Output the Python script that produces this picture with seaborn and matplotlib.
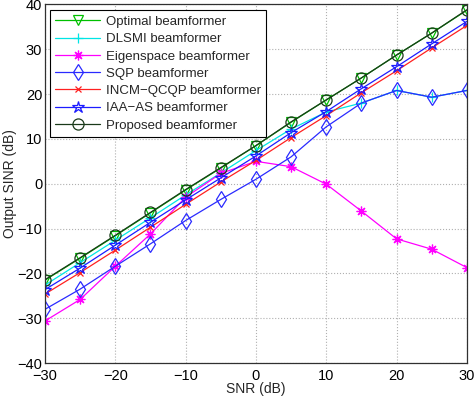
import numpy as np
import pandas as pd
import matplotlib
matplotlib.use('Agg')
import matplotlib.pyplot as plt
import seaborn as sns

# SNR axis (dB)
snr = [-30, -25, -20, -15, -10, -5, 0, 5, 10, 15, 20, 25, 30]

# output SINR curves
optimal   = [-21.5, -16.6, -11.6, -6.5, -1.4, 3.5, 8.5, 13.7, 18.7, 23.6, 28.7, 33.6, 38.7]
dlsmi     = [-22.6, -17.6, -12.6, -7.6, -2.5, 2.4, 7.4, 12.2, 16.0, 18.0, 20.8, 19.3, 20.8]
eigen     = [-30.6, -25.8, -18.4, -11.2, -3.0, 2.3, 5.0, 3.8, -0.1, -6.1, -12.3, -14.6, -18.7]
sqp       = [-28.0, -23.5, -18.4, -13.4, -8.2, -3.5, 1.0, 6.0, 12.7, 18.0, 20.8, 19.3, 20.8]
incm      = [-24.6, -19.8, -14.8, -9.7, -4.6, 0.4, 5.2, 10.3, 15.2, 20.3, 25.2, 30.3, 35.3]
iaa       = [-23.6, -18.8, -13.7, -8.6, -3.6, 1.3, 6.2, 11.4, 16.1, 21.2, 26.1, 31.2, 36.2]
proposed  = [-21.4, -16.5, -11.5, -6.4, -1.3, 3.6, 8.5, 13.8, 18.7, 23.6, 28.7, 33.6, 38.8]

sns.set_style("whitegrid", {'grid.linestyle': ':', 'grid.color': '#b0b0b0',
                            'axes.edgecolor': '#303030'})
plt.rcParams['font.family'] = ['Liberation Sans', 'DejaVu Sans']
plt.rcParams['font.size'] = 10

fig = plt.figure(figsize=(4.74, 3.99), dpi=100)
ax = fig.add_axes([0.095, 0.09, 0.89, 0.899])

series = [
    ('Optimal beamformer', optimal, '#00c000', 'v', dict(mfc='none', ms=7)),
    ('DLSMI beamformer', dlsmi, '#00e5e5', '+', dict(ms=7)),
    ('Eigenspace beamformer', eigen, '#ff00ff', (8, 2, 0), dict(ms=7)),
    ('SQP beamformer', sqp, '#2a2aff', 'd', dict(mfc='none', ms=8)),
    ('INCM\u2212QCQP beamformer', incm, '#ff2020', 'x', dict(ms=5)),
    ('IAA\u2212AS beamformer', iaa, '#1c1cff', '*', dict(mfc='none', ms=9)),
    ('Proposed beamformer', proposed, '#1a3a1a', 'o', dict(mfc='none', ms=8)),
]

for name, vals, col, mk, kw in series:
    sns.lineplot(x=snr, y=vals, ax=ax, color=col, marker=mk, label=name,
                 linewidth=0.9, mec=col, mew=0.9, **kw)

ax.set_xlim(-30, 30)
ax.set_ylim(-40, 40)
ax.set_xticks(range(-30, 31, 10))
ax.set_yticks(range(-40, 41, 10))
ax.set_xlabel('SNR (dB)', labelpad=-1, fontsize=10)
ax.set_ylabel('Output SINR (dB)', labelpad=0, fontsize=10)
ax.tick_params(axis='x', direction='in', length=3, pad=4.5, colors='black', labelsize=10.5)
ax.tick_params(axis='y', direction='in', length=3, pad=2, colors='black', labelsize=10.5)
for sp in ax.spines.values():
    sp.set_visible(True)
    sp.set_linewidth(0.9)

leg = ax.legend(loc='upper left', frameon=True, fancybox=False, borderpad=0.4,
                labelspacing=0.38, handlelength=3.4, handletextpad=0.45,
                borderaxespad=0, bbox_to_anchor=(0.012, 0.983), fontsize=9.5)
leg.get_frame().set_edgecolor('black')
leg.get_frame().set_linewidth(0.8)
leg.get_frame().set_alpha(1)

fig.savefig('out.png', dpi=100)
